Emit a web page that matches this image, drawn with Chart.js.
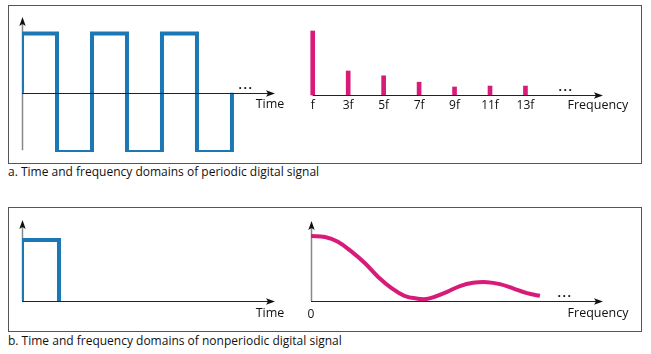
<!DOCTYPE html>
<html><head><meta charset="utf-8">
<script src="https://cdn.jsdelivr.net/npm/chart.js@4/dist/chart.umd.min.js"></script>
<style>
html,body{margin:0;padding:0;background:#fff;width:651px;height:354px;overflow:hidden;font-family:"Open Sans",sans-serif;}
.frame{position:absolute;border:1px solid #555;box-sizing:border-box;}
.cap{position:absolute;left:8px;font-size:12px;color:#111;white-space:nowrap;line-height:14px;}
canvas{position:absolute;}
</style></head><body>
<div class="frame" style="left:8px;top:5px;width:634px;height:159px"></div>
<div class="cap" style="top:165px">a. Time and frequency domains of periodic digital signal</div>
<div class="frame" style="left:8px;top:207px;width:634px;height:125px"></div>
<div class="cap" style="top:334px">b. Time and frequency domains of nonperiodic digital signal</div>
<canvas id="c1" width="290" height="156" style="left:9px;top:6px"></canvas>
<canvas id="c2" width="345" height="156" style="left:295px;top:6px"></canvas>
<canvas id="c3" width="290" height="121" style="left:9px;top:209px"></canvas>
<canvas id="c4" width="345" height="121" style="left:295px;top:209px"></canvas>
<script>
// ---- data ----
const periodicLevels = [1, -1, 1, -1, 1, -1];           // one level per half period
const harmonicOrders = [1, 3, 5, 7, 9, 11, 13];
const harmonicLabels = ['f', '3f', '5f', '7f', '9f', '11f', '13f'];
const harmonicAmps   = [1.0, 0.375, 0.30, 0.20, 0.125, 0.14, 0.14];
const pulseTimes  = [0, 0, 1, 1];
const pulseLevels = [0, 1, 1, 0];
const spectrumFreqs = [0, 0.48, 0.92, 1.4, 1.85, 2.3, 2.77, 3.2, 3.66, 3.95, 4.18, 4.66, 5.1, 5.55, 6.03, 6.47, 6.92, 7.4, 7.84];
const spectrumAmps  = [1.0, 0.985, 0.91, 0.755, 0.58, 0.37, 0.195, 0.08, 0.035, 0.03, 0.055, 0.14, 0.23, 0.28, 0.29, 0.26, 0.195, 0.12, 0.08];
const zeroLabel = ['0'];

const BLUE = '#1b78b4', MAGENTA = '#d81b78';
Chart.defaults.font.family = '"Open Sans", sans-serif';
Chart.defaults.font.size = 12;
Chart.defaults.color = '#111';
Chart.defaults.animation = false;

function arrow(ctx, x, y, dir) {
  const L = 9, W = 3.2;
  ctx.beginPath();
  if (dir === 'right') { ctx.moveTo(x, y); ctx.lineTo(x - L, y - W); ctx.lineTo(x - L + 2, y); ctx.lineTo(x - L, y + W); }
  else { ctx.moveTo(x, y); ctx.lineTo(x - W, y + L); ctx.lineTo(x, y + L - 2); ctx.lineTo(x + W, y + L); }
  ctx.closePath(); ctx.fillStyle = '#111'; ctx.fill();
}

const axesPlugin = {
  id: 'axes',
  beforeDatasetsDraw(chart, args, o) {
    if (!o.y) return;
    const ctx = chart.ctx, xs = chart.scales.x, ys = chart.scales.y;
    const x = Math.round(xs.getPixelForValue(o.y.at)) + 0.5;
    const y0 = ys.getPixelForValue(o.y.from), y1 = ys.getPixelForValue(o.y.to);
    ctx.save();
    ctx.strokeStyle = '#888'; ctx.lineWidth = 1.5;
    ctx.beginPath(); ctx.moveTo(x, y0); ctx.lineTo(x, y1 + 6); ctx.stroke();
    arrow(ctx, x, y1, 'up');
    ctx.restore();
  },
  afterDatasetsDraw(chart, args, o) {
    const ctx = chart.ctx, xs = chart.scales.x, ys = chart.scales.y;
    const y = Math.round(ys.getPixelForValue(o.x.at)) + 0.5;
    const x0 = xs.getPixelForValue(o.x.from), x1 = xs.getPixelForValue(o.x.to);
    ctx.save();
    ctx.strokeStyle = '#222'; ctx.lineWidth = 1.2;
    ctx.beginPath(); ctx.moveTo(x0, y); ctx.lineTo(x1 - 6, y); ctx.stroke();
    arrow(ctx, x1, y, 'right');
    ctx.fillStyle = '#111';
    ctx.textAlign = 'center'; ctx.textBaseline = 'middle';
    ctx.font = '12.5px "Open Sans", sans-serif';
    ctx.fillText(o.title.text, x1 + o.title.dx, y + o.title.dy);
    if (o.dots) {
      ctx.font = 'bold 12px "Open Sans", sans-serif';
      ctx.letterSpacing = '1.5px';
      ctx.fillText('...', x1 + o.dots.dx, y + o.dots.dy);
    }
    ctx.restore();
  }
};

const hiddenAxis = (min, max) => ({ type: 'linear', min, max, display: false });

// a. periodic - time domain
const wavePts = [{ x: 0, y: 0 }];
periodicLevels.forEach((lv, i) => { wavePts.push({ x: i, y: lv }, { x: i + 1, y: lv }); });
wavePts.push({ x: periodicLevels.length, y: 0 });

new Chart(document.getElementById('c1'), {
  type: 'line',
  data: { datasets: [{ data: wavePts, borderColor: BLUE, borderWidth: 4, pointRadius: 0, tension: 0, borderJoinStyle: 'miter', fill: false }] },
  options: {
    responsive: false, layout: { padding: { left: 13, right: 24, top: 11, bottom: 10 } },
    scales: { x: hiddenAxis(0, 7.23), y: hiddenAxis(-1, 1.28) },
    plugins: { legend: { display: false }, tooltip: { enabled: false },
      axes: { x: { at: 0, from: 0, to: 7.23 }, y: { at: 0, from: -0.97, to: 1.28 },
        title: { text: 'Time', dx: -5, dy: 11 }, dots: { dx: -29, dy: -8 } } }
  },
  plugins: [axesPlugin]
});

// a. periodic - frequency domain
new Chart(document.getElementById('c2'), {
  type: 'bar',
  data: { datasets: [{ data: harmonicOrders.map((h, i) => ({ x: h, y: harmonicAmps[i] })), backgroundColor: MAGENTA, barThickness: 4, clip: false }] },
  options: {
    responsive: false, layout: { padding: { left: 0, right: 25.9, top: 25, bottom: 47 } },
    scales: {
      x: { type: 'linear', min: 0, max: 18, offset: false, grid: { display: false, drawTicks: false }, border: { display: false },
        afterBuildTicks: s => { s.ticks = harmonicOrders.map(v => ({ value: v })); },
        afterFit: s => { s.height = 20; },
        ticks: { padding: 3, maxRotation: 0, autoSkip: false, callback: v => harmonicLabels[harmonicOrders.indexOf(v)] } },
      y: hiddenAxis(0, 1.0)
    },
    plugins: { legend: { display: false }, tooltip: { enabled: false },
      axes: { x: { at: 0, from: 1, to: 17.37 }, title: { text: 'Frequency', dx: -5, dy: 10 }, dots: { dx: -37, dy: -8 } } }
  },
  plugins: [axesPlugin]
});

// b. nonperiodic - time domain
new Chart(document.getElementById('c3'), {
  type: 'line',
  data: { datasets: [{ data: pulseTimes.map((t, i) => ({ x: t, y: pulseLevels[i] })), borderColor: BLUE, borderWidth: 4, pointRadius: 0, tension: 0, borderJoinStyle: 'miter', fill: false }] },
  options: {
    responsive: false, layout: { padding: { left: 13, right: 24, top: 11, bottom: 29 } },
    scales: { x: hiddenAxis(0, 6.84), y: hiddenAxis(0, 1.33) },
    plugins: { legend: { display: false }, tooltip: { enabled: false },
      axes: { x: { at: 0, from: 0, to: 6.84 }, y: { at: 0, from: 0, to: 1.33 },
        title: { text: 'Time', dx: -5, dy: 12 } } }
  },
  plugins: [axesPlugin]
});

// b. nonperiodic - frequency domain
new Chart(document.getElementById('c4'), {
  type: 'line',
  data: { datasets: [{ data: spectrumFreqs.map((f, i) => ({ x: f, y: spectrumAmps[i] })), borderColor: MAGENTA, borderWidth: 4, pointRadius: 0, tension: 0.4, borderCapStyle: 'butt', fill: false }] },
  options: {
    responsive: false, layout: { padding: { left: 16, right: 37, top: 12, bottom: 9 } },
    scales: {
      x: { type: 'linear', min: 0, max: 10, grid: { display: false, drawTicks: false }, border: { display: false },
        afterBuildTicks: s => { s.ticks = [{ value: 0 }]; },
        afterFit: s => { s.height = 20; },
        ticks: { padding: 6, maxRotation: 0, autoSkip: false, callback: () => zeroLabel[0] } },
      y: hiddenAxis(0, 1.23)
    },
    plugins: { legend: { display: false }, tooltip: { enabled: false },
      axes: { x: { at: 0, from: 0, to: 10 }, y: { at: 0, from: 0, to: 1.23 },
        title: { text: 'Frequency', dx: -5, dy: 12 }, dots: { dx: -38, dy: -8 } } }
  },
  plugins: [axesPlugin]
});
</script>
</body></html>
